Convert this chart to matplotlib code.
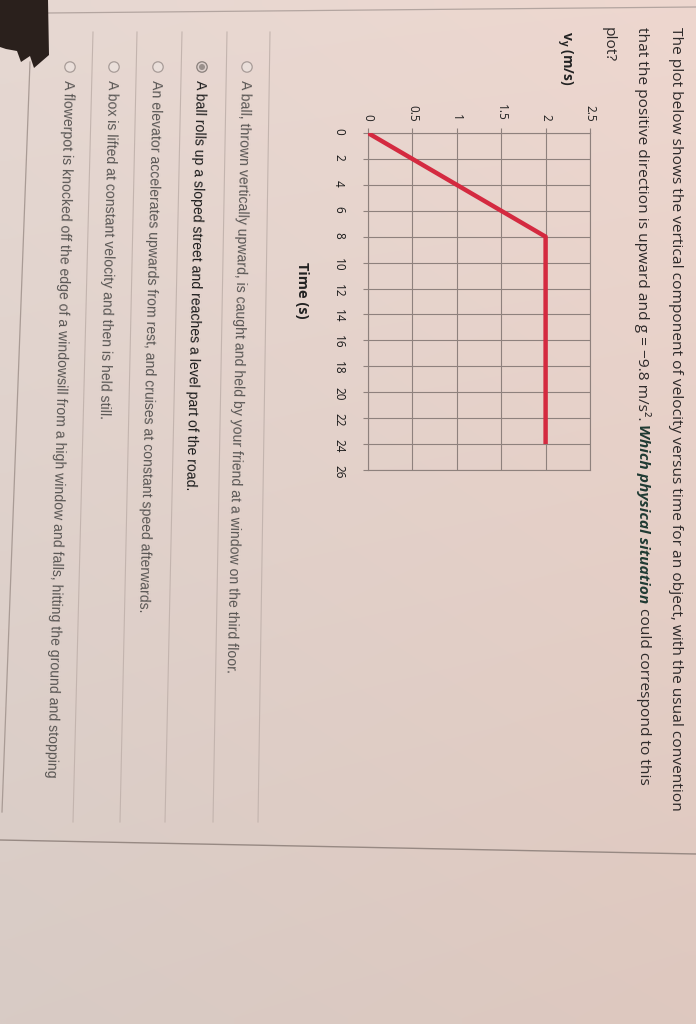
import matplotlib
matplotlib.use('Agg')
import matplotlib.pyplot as plt
import numpy as np
from matplotlib.patches import Circle, Polygon

# ---------------- data ----------------
time_s = [0, 8, 24]
vy_ms = [0, 2, 2]
time_ticks = list(range(0, 27, 2))
time_tick_labels = [str(t) for t in time_ticks]
vy_ticks = [0, 0.5, 1, 1.5, 2, 2.5]
vy_tick_labels = ['0', '0.5', '1', '1.5', '2', '2.5']

question_line1 = ("The plot below shows the vertical component of velocity versus time "
                  "for an object, with the usual convention")
question_line2_a = "that the positive direction is upward and g = \u22129.8 m/s\u00b2."
question_line2_b = "Which physical situation"
question_line2_c = "could correspond to this"
question_line3 = "plot?"
options = [
    "A ball, thrown vertically upward, is caught and held by your friend at a window on the third floor.",
    "A ball rolls up a sloped street and reaches a level part of the road.",
    "An elevator accelerates upwards from rest, and cruises at constant speed afterwards.",
    "A box is lifted at constant velocity and then is held still.",
    "A flowerpot is knocked off the edge of a windowsill from a high window and falls, hitting the ground and stopping",
]
selected_option = 1

# ---------------- figure ----------------
W, H = 696, 1024
fig = plt.figure(figsize=(W / 100, H / 100), dpi=100)
bg = fig.add_axes([0, 0, 1, 1])
bg.axis('off')

# background (photo of a screen) gradient
tl = np.array([0xe6, 0xd8, 0xd2]) / 255
tr = np.array([0xee, 0xd7, 0xcf]) / 255
bl = np.array([0xd8, 0xcb, 0xc5]) / 255
br = np.array([0xde, 0xc8, 0xbf]) / 255
u = np.linspace(0, 1, 60)[None, :, None]
v = np.linspace(0, 1, 90)[:, None, None]
grad = (1 - v) * ((1 - u) * tl + u * tr) + v * ((1 - u) * bl + u * br)
bg.imshow(grad, extent=(0, W, H, 0), aspect='auto', interpolation='bilinear', zorder=0)
bg.set_xlim(0, W)
bg.set_ylim(H, 0)

# page rules
bg.plot([48, W], [13, 7], color='#b3a5a0', lw=0.9, zorder=1)
bg.plot([0, W], [840, 854], color='#978983', lw=1.0, zorder=1)
bg.plot([30, 2], [62, 812], color='#a99b95', lw=0.9, zorder=1)
sep_top = [270, 227, 182, 137, 93]
sep_bot = [258, 213, 165, 120, 73]
for xt, xb in zip(sep_top, sep_bot):
    bg.plot([xt, xb], [32, 822], color='#c3b4ae', lw=0.8, zorder=1)

# dark object in the top-left corner of the photo
bg.add_patch(Polygon([[0, 0], [48, 0], [49, 55], [34, 68], [30, 56], [21, 62], [17, 51],
                      [6, 49], [0, 47]], closed=True,
                     facecolor='#2a201c', edgecolor='none', zorder=2))

# ---------------- question text ----------------
qfont = ['Open Sans', 'DejaVu Sans']
qsize = 11.15
qcol = '#2e2a2a'
rot = dict(rotation=-90, rotation_mode='anchor', ha='left', va='center')
bg.text(676, 27, question_line1, family=qfont, fontsize=qsize, color=qcol, zorder=5, **rot)
bg.text(608, 27, question_line3, family=qfont, fontsize=qsize, color=qcol, zorder=5, **rot)

renderer = fig.canvas.get_renderer()


def seg_len(s, **kw):
    t = bg.text(0, 0, s, **kw)
    L = t.get_window_extent(renderer).width
    t.remove()
    return L


space = seg_len('a a', family=qfont, fontsize=qsize) - seg_len('aa', family=qfont, fontsize=qsize)
y0 = 27
segs = [(question_line2_a, dict(color=qcol)),
        (question_line2_b, dict(color='#1f3a33', fontweight='bold', fontstyle='italic')),
        (question_line2_c, dict(color=qcol))]
for s, sty in segs:
    bg.text(643, y0, s, family=qfont, fontsize=qsize, zorder=5, **rot, **sty)
    y0 += seg_len(s, family=qfont, fontsize=qsize, **{k: v for k, v in sty.items() if k != 'color'}) + space

# ---------------- options ----------------
opt_x = [245, 200, 156, 112, 68]
ofont = ['Liberation Sans', 'DejaVu Sans']
for i, (txt, x) in enumerate(zip(options, opt_x)):
    sel = (i == selected_option)
    bg.add_patch(Circle((x + 2, 67), 5.2, facecolor='#eadfda' if not sel else '#ddd0cc',
                        edgecolor='#a89c98' if not sel else '#8a807c', lw=0.9, zorder=4))
    if sel:
        bg.add_patch(Circle((x + 2, 67), 3.0, facecolor='#9a908c', edgecolor='none', zorder=5))
    bg.text(x, 80, txt, family=ofont, fontsize=10.1, color='#1c1c1c' if sel else '#5a5755',
            rotation=-91.4, rotation_mode='anchor', ha='left', va='center', zorder=5)

# ---------------- chart ----------------
gridc = '#8e817d'
ax = fig.add_axes([368 / W, 1 - 470 / H, 222 / W, 337 / H])
ax.set_facecolor('none')
ax.plot(vy_ms, time_s, color='#d42a40', lw=3.2, solid_capstyle='butt', zorder=3)
ax.set_xlim(vy_ticks[0], vy_ticks[-1])
ax.set_ylim(time_ticks[-1], time_ticks[0])
ax.set_xticks(vy_ticks)
ax.set_xticklabels(vy_tick_labels, rotation=-90, family=qfont)
ax.set_yticks(time_ticks)
ax.set_yticklabels(time_tick_labels, rotation=-90, family=qfont)
ax.xaxis.tick_top()
ax.tick_params(axis='x', direction='out', length=3.5, width=0.8, color=gridc, pad=5.0,
               labelsize=8.5, labelcolor='#222222')
ax.tick_params(axis='y', direction='out', length=3.5, width=0.8, color=gridc, pad=13,
               labelsize=8.5, labelcolor='#1a1a1a')
ax.grid(True, color=gridc, lw=0.8)
ax.set_axisbelow(True)
for s in ax.spines.values():
    s.set_color(gridc)
    s.set_linewidth(0.8)

bg.text(302, 290, 'Time (s)', family=qfont, fontsize=10.5, fontweight='bold', color='#222222',
        rotation=-90, ha='center', va='center', zorder=5)
bg.text(564, 58, r'v$_{\mathregular{y}}$ (m/s)', family=qfont, fontsize=10, fontweight='bold',
        color='#222222', rotation=-90, ha='center', va='center', zorder=5)

fig.savefig('out.png', dpi=100)
